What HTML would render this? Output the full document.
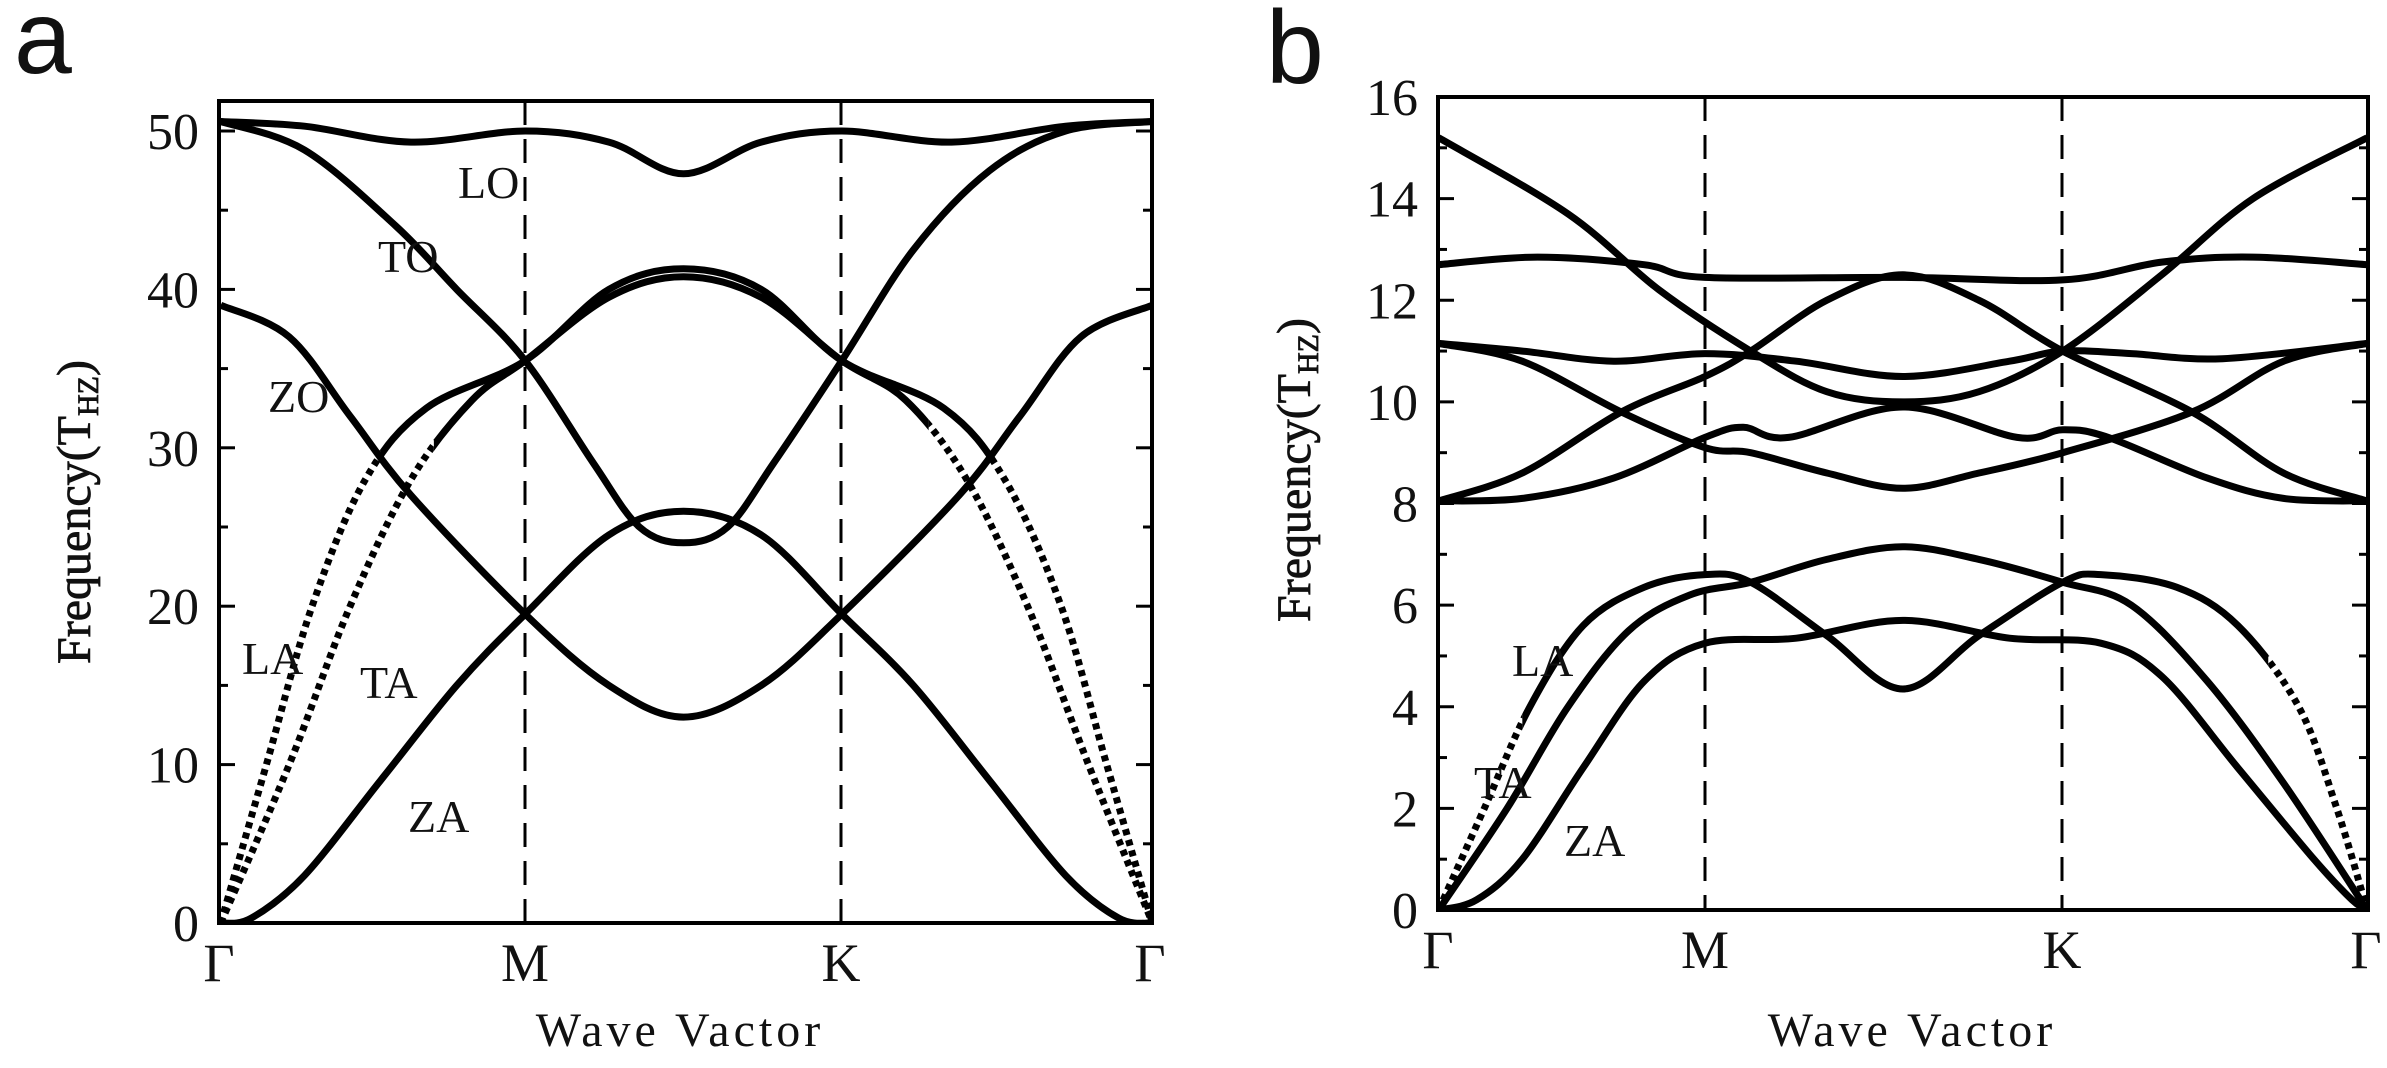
<!DOCTYPE html>
<html><head><meta charset="utf-8"><style>
html,body{margin:0;padding:0;background:#fff;}
svg{display:block;}
text{font-family:"Liberation Serif",serif;fill:#111;}
</style></head><body>
<svg id="s" width="2387" height="1068" viewBox="0 0 2387 1068" xmlns="http://www.w3.org/2000/svg">
<text x="14" y="73" style="font-family:'Liberation Sans',sans-serif;font-size:104px">a</text>
<text x="1266" y="83" style="font-family:'Liberation Sans',sans-serif;font-size:104px">b</text>
<g id="g"></g>
</svg>
<script>
const g=document.getElementById('g');let out='';
const S=2387/1568;
function cr(pts){let d='M'+pts[0][0].toFixed(1)+','+pts[0][1].toFixed(1);
for(let i=0;i<pts.length-1;i++){const p0=pts[Math.max(0,i-1)],p1=pts[i],p2=pts[i+1],p3=pts[Math.min(pts.length-1,i+2)];
const c1=[p1[0]+(p2[0]-p0[0])/6,p1[1]+(p2[1]-p0[1])/6],c2=[p2[0]-(p3[0]-p1[0])/6,p2[1]-(p3[1]-p1[1])/6];
d+='C'+c1[0].toFixed(1)+','+c1[1].toFixed(1)+' '+c2[0].toFixed(1)+','+c2[1].toFixed(1)+' '+p2[0].toFixed(1)+','+p2[1].toFixed(1);}return d;}
let cid=0;
function panel(o){
 const X=px=>px*S, Y=f=>o.y0-(o.y0-o.ytop)*f/o.fmax;
 const L=o.L,R=o.R,T=o.T,B=o.B;
 let s='';
 s+=`<defs><clipPath id="c${o.id}"><rect x="${L}" y="${T}" width="${R-L}" height="${B-T}"/></clipPath></defs>`;
 s+=`<g clip-path="url(#c${o.id})" fill="none" stroke="#000" stroke-width="${o.lw}" stroke-linejoin="round">`;
 o.bands.forEach(b=>{const pts=b.p.map(q=>[X(q[0]),Y(q[1])]);const d=cr(pts);
   if(b.dot){const x1=X(b.dot[0]),x2=X(b.dot[1]);cid++;
     s+=`<clipPath id="m${cid}"><rect x="${x1}" y="0" width="${x2-x1}" height="1068"/></clipPath>`;
     s+=`<clipPath id="n${cid}"><path d="M0,0H${x1}V1068H0Z M${x2},0H2387V1068H${x2}Z"/></clipPath>`;
     s+=`<path d="${d}" clip-path="url(#m${cid})"/>`;
     s+=`<path d="${d}" stroke-dasharray="6 5" clip-path="url(#n${cid})"/>`;}
   else s+=`<path d="${d}"/>`;});
 s+='</g>';
 o.vx.forEach(v=>{s+=`<line x1="${v}" y1="${T}" x2="${v}" y2="${B}" stroke="#000" stroke-width="3" stroke-dasharray="24 14"/>`;});
 s+=`<rect x="${L}" y="${T}" width="${R-L}" height="${B-T}" fill="none" stroke="#000" stroke-width="4"/>`;
 for(let f=0;f<=o.fmax+1e-9;f+=o.minor){const y=Y(f);const maj=Math.abs(f/o.major-Math.round(f/o.major))<1e-6;const l=maj?16:9;
  if(y<T-1)continue;
  s+=`<line x1="${L}" y1="${y}" x2="${L+l}" y2="${y}" stroke="#000" stroke-width="3"/><line x1="${R}" y1="${y}" x2="${R-l}" y2="${y}" stroke="#000" stroke-width="3"/>`;
  if(maj) s+=`<text x="${L-20}" y="${y+18}" text-anchor="end" font-size="52">${Math.round(f)}</text>`;}
 o.xl.forEach(q=>{s+=`<text x="${q[0]}" y="${B+58}" text-anchor="middle" font-size="54">${q[1]}</text>`;});
 s+=`<text x="${o.wx}" y="1046" text-anchor="middle" font-size="48" letter-spacing="4">Wave Vactor</text>`;
 s+=`<text transform="translate(${o.fx},${o.fy}) rotate(-90)" text-anchor="middle" font-size="48" stroke="#111" stroke-width="0.8">Frequency(T<tspan font-size="30" dy="8">HZ</tspan><tspan dy="-8">)</tspan></text>`;
 o.lab.forEach(q=>{s+=`<text x="${q[0]}" y="${q[1]}" font-size="46">${q[2]}</text>`;});
 return s;}
const A={id:'a',L:219,R:1152,T:101,B:923,y0:923,ytop:131,fmax:50,major:10,minor:5,lw:7,
vx:[525,841],xl:[[219,'Γ'],[525,'M'],[841,'K'],[1150,'Γ']],wx:680,fx:90,fy:512,
lab:[[458,198,'LO'],[378,272,'TO'],[268,412,'ZO'],[242,674,'LA'],[360,698,'TA'],[408,832,'ZA']],
bands:[
{p:[[145,50.6],[200,50.3],[270,49.3],[345,50.0],[400,49.3],[449,47.3],[500,49.3],[553,50.0],[625,49.3],[700,50.3],[757,50.6]]},
{p:[[145,50.6],[200,48.8],[260,44],[300,40],[345,35.5],[390,29],[420,25],[449,24],[478,25],[508,29],[553,35.5],[600,42.5],[650,47.5],[700,50],[757,50.6]]},
{p:[[145,0],[175,10],[205,20],[240,28],[280,32.5],[345,35.5],[400,40],[449,41.3],[500,40],[553,35.5],[620,32.5],[660,28],[697,20],[727,10],[757,0]],dot:[250,650]},
{p:[[145,0],[190,10],[230,20],[270,28],[310,33],[345,35.5],[400,39.5],[449,40.8],[500,39.5],[553,35.5],[595,33],[635,28],[675,20],[715,10],[757,0]],dot:[285,610]},
{p:[[145,39],[190,37],[230,32],[270,27],[345,19.5],[400,15],[449,13],[500,15],[553,19.5],[630,27],[670,32],[710,37],[757,39]]},
{p:[[145,0],[165,0.3],[200,3],[250,9],[300,15],[345,19.5],[400,24.5],[449,26],[500,24.5],[553,19.5],[600,15],[650,9],[700,3],[735,0.3],[757,0]]}
]};
const Bp={id:'b',L:1438,R:2368,T:97,B:910,y0:910,ytop:97,fmax:16,major:2,minor:1,lw:7,
vx:[1705,2062],xl:[[1438,'Γ'],[1705,'M'],[2062,'K'],[2366,'Γ']],wx:1912,fx:1310,fy:470,
lab:[[1512,676,'LA'],[1474,798,'TA'],[1564,856,'ZA']],
bands:[
{p:[[945,15.2],[1030,13.7],[1090,12.2],[1150,11.0],[1200,10.2],[1250,10.0],[1300,10.2],[1355,11.0],[1420,12.5],[1480,14],[1555,15.2]]},
{p:[[945,12.7],[1010,12.85],[1080,12.7],[1120,12.45],[1250,12.45],[1355,12.4],[1420,12.75],[1480,12.85],[1555,12.7]]},
{p:[[945,8.05],[1000,8.6],[1065,9.8],[1120,10.5],[1150,11],[1200,12],[1250,12.5],[1300,12],[1355,11],[1440,9.8],[1500,8.6],[1555,8.05]]},
{p:[[945,11.15],[1000,11.0],[1060,10.8],[1120,10.95],[1180,10.8],[1250,10.5],[1320,10.8],[1355,11.0],[1400,10.95],[1460,10.85],[1555,11.15]]},
{p:[[945,11.15],[1000,10.8],[1065,9.8],[1120,9.1],[1150,9.0],[1200,8.6],[1250,8.3],[1300,8.6],[1355,9.0],[1440,9.8],[1500,10.8],[1555,11.15]]},
{p:[[945,8.05],[1000,8.1],[1060,8.5],[1120,9.3],[1145,9.5],[1175,9.3],[1250,9.9],[1325,9.3],[1355,9.45],[1385,9.3],[1450,8.5],[1500,8.1],[1555,8.05]]},
{p:[[945,0],[975,2],[1005,4],[1040,5.6],[1080,6.35],[1120,6.6],[1150,6.45],[1200,5.4],[1250,4.35],[1300,5.4],[1355,6.45],[1380,6.6],[1430,6.35],[1470,5.6],[1510,4],[1535,2],[1555,0]],dot:[1000,1490]},
{p:[[945,0],[990,2],[1030,4],[1070,5.5],[1110,6.2],[1150,6.45],[1200,6.9],[1250,7.15],[1300,6.9],[1355,6.45],[1400,6.0],[1450,4.5],[1500,2.5],[1555,0]]},
{p:[[945,0],[970,0.2],[1000,1],[1040,2.8],[1080,4.5],[1120,5.25],[1180,5.35],[1250,5.7],[1320,5.35],[1380,5.25],[1420,4.6],[1470,2.8],[1520,1],[1545,0.2],[1555,0]]}
]};
out+=panel(A)+panel(Bp);
g.innerHTML=out;
</script>
</body></html>
